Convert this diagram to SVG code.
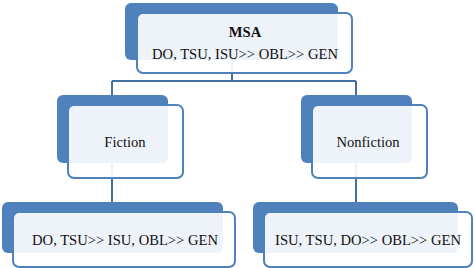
<svg xmlns="http://www.w3.org/2000/svg" width="474" height="268" viewBox="0 0 474 268">
<style>
.back{fill:#4f81bd;}
.front{fill:#ffffff;fill-opacity:0.9;stroke:#4f81bd;stroke-width:2;}
.conn{fill:none;stroke:#41719c;stroke-width:2;}
.t{font-size:14.6px;fill:#111;text-anchor:middle;}
.b{font-weight:bold;}
</style>
<rect width="474" height="268" fill="#ffffff"/>
<g id="connectors">
<path class="conn" d="M232 60 V81 M112 81 H356 M112 81 V95 M356 81 V95"/>
<path class="conn" d="M112 163 V202 M356 163 V202"/>
</g>
<g font-family="Liberation Serif, serif">
<g id="msa">
<rect class="back" x="125" y="3" width="213" height="57" rx="6"/>
<rect class="front" x="137" y="13" width="215" height="60" rx="6"/>
<text class="t b" x="245" y="37">MSA</text>
<text class="t" x="245" y="59">DO, TSU, ISU&gt;&gt; OBL&gt;&gt; GEN</text>
</g>
<g id="fiction">
<rect class="back" x="57" y="95" width="111" height="68" rx="6"/>
<rect class="front" x="68" y="105" width="115" height="73" rx="6"/>
<text class="t" x="125" y="147">Fiction</text>
</g>
<g id="nonfiction">
<rect class="back" x="301" y="95" width="111" height="68" rx="6"/>
<rect class="front" x="312" y="105" width="115" height="73" rx="6"/>
<text class="t" x="368" y="147">Nonfiction</text>
</g>
<g id="fiction-order">
<rect class="back" x="2" y="202" width="221" height="51" rx="6"/>
<rect class="front" x="13" y="212" width="222" height="55" rx="6"/>
<text class="t" x="125" y="245">DO, TSU&gt;&gt; ISU, OBL&gt;&gt; GEN</text>
</g>
<g id="nonfiction-order">
<rect class="back" x="253" y="202" width="205" height="51" rx="6"/>
<rect class="front" x="264" y="212" width="208" height="55" rx="6"/>
<text class="t" x="368" y="245">ISU, TSU, DO&gt;&gt; OBL&gt;&gt; GEN</text>
</g>
</g>
</svg>
